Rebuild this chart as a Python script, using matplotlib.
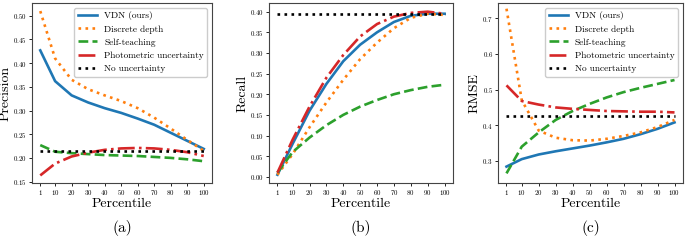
import matplotlib
matplotlib.use("Agg")
import matplotlib.pyplot as plt

plt.rcParams["font.family"] = "serif"
plt.rcParams["font.serif"] = ["cmr10", "DejaVu Serif"]
plt.rcParams["axes.formatter.use_mathtext"] = True

percentile = [1, 10, 20, 30, 40, 50, 60, 70, 80, 90, 100]
labels = ["VDN (ours)", "Discrete depth", "Self-teaching", "Photometric uncertainty", "No uncertainty"]

# Precision
prec_vdn = [0.427, 0.362, 0.332, 0.317, 0.305, 0.295, 0.283, 0.270, 0.253, 0.236, 0.219]
prec_discrete = [0.510, 0.410, 0.365, 0.345, 0.332, 0.320, 0.305, 0.285, 0.262, 0.238, 0.215]
prec_self = [0.227, 0.213, 0.210, 0.208, 0.206, 0.205, 0.204, 0.202, 0.200, 0.197, 0.193]
prec_photo = [0.163, 0.188, 0.203, 0.211, 0.217, 0.220, 0.221, 0.220, 0.217, 0.212, 0.204]
prec_none = [0.215] * 11

# Recall
rec_vdn = [0.005, 0.080, 0.160, 0.225, 0.280, 0.320, 0.350, 0.375, 0.390, 0.395, 0.395]
rec_discrete = [0.005, 0.055, 0.120, 0.180, 0.235, 0.285, 0.325, 0.360, 0.385, 0.395, 0.392]
rec_self = [0.010, 0.060, 0.095, 0.125, 0.150, 0.170, 0.186, 0.200, 0.210, 0.218, 0.223]
rec_photo = [0.010, 0.090, 0.170, 0.240, 0.295, 0.340, 0.370, 0.388, 0.397, 0.400, 0.395]
rec_none = [0.395] * 11

# RMSE
rmse_vdn = [0.284, 0.305, 0.318, 0.327, 0.335, 0.343, 0.352, 0.362, 0.375, 0.390, 0.408]
rmse_discrete = [0.727, 0.470, 0.385, 0.365, 0.358, 0.357, 0.362, 0.370, 0.380, 0.395, 0.415]
rmse_self = [0.265, 0.340, 0.380, 0.415, 0.440, 0.460, 0.478, 0.493, 0.505, 0.516, 0.527]
rmse_photo = [0.512, 0.468, 0.458, 0.450, 0.446, 0.443, 0.440, 0.439, 0.438, 0.438, 0.436]
rmse_none = [0.425] * 11

styles = [("tab:blue", "-"), ("tab:orange", ":"), ("tab:green", "--"), ("tab:red", "-."), ("black", ":")]

fig = plt.figure(figsize=(6.85, 2.42), dpi=100)
W, H = 685.0, 242.0
boxes = [(32, 212), (269, 453), (498, 683)]
panels = [
    ("Precision", [prec_vdn, prec_discrete, prec_self, prec_photo, prec_none], (0.147, 0.527), True, "(a)"),
    ("Recall", [rec_vdn, rec_discrete, rec_self, rec_photo, rec_none], (-0.015, 0.421), False, "(b)"),
    ("RMSE", [rmse_vdn, rmse_discrete, rmse_self, rmse_photo, rmse_none], (0.238, 0.743), True, "(c)"),
]

for (x0, x1), (ylab, series, ylim, leg, cap) in zip(boxes, panels):
    ax = fig.add_axes([x0 / W, 1 - 183 / H, (x1 - x0) / W, 180 / H])
    for s, (c, ls), lab in zip(series, styles, labels):
        ax.plot(percentile, s, color=c, linestyle=ls, linewidth=1.9, label=lab)
    ax.set_ylim(*ylim)
    ax.set_xlim(-4, 105)
    ax.set_xticks(percentile)
    ax.tick_params(labelsize=5, length=2, width=0.6, pad=1.5)
    ax.set_xlabel("Percentile", fontsize=10, labelpad=1)
    ax.set_ylabel(ylab, fontsize=10, labelpad=1)
    for sp in ax.spines.values():
        sp.set_linewidth(0.8)
        sp.set_color("#444444")
    if leg:
        ax.legend(loc="upper right", fontsize=6.7, handlelength=2.0, borderpad=0.4,
                  labelspacing=0.5, framealpha=1, fancybox=True)
    fig.text((x0 + x1) / 2 / W, 1 - 228 / H, cap, ha="center", va="center", fontsize=11)

fig.savefig("out.png", dpi=100)
